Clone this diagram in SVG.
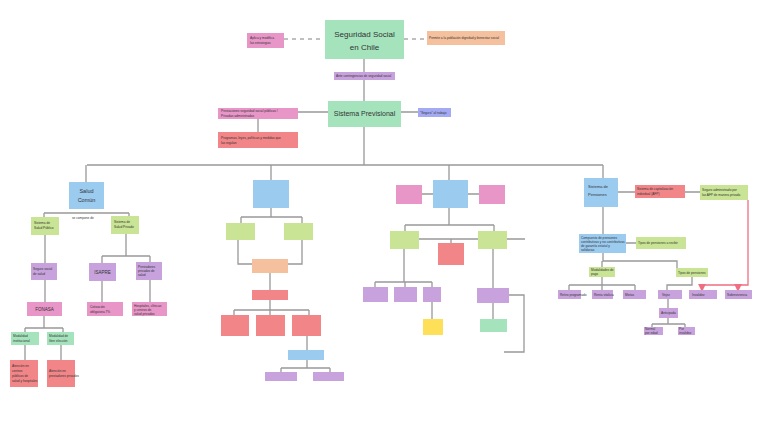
<svg xmlns="http://www.w3.org/2000/svg" width="768" height="443" viewBox="0 0 768 443">
<defs>
<style>
.c{stroke:#999;stroke-width:1.3;fill:none}
.d{stroke:#aaa;stroke-width:1.3;fill:none;stroke-dasharray:4 4}
.r{stroke:#f06d82;stroke-width:1.3;fill:none}
.g{fill:#a5e3bd}.b{fill:#9ccbf0}.p{fill:#e895c8}.o{fill:#f5c09d}.v{fill:#c7a2dc}.l{fill:#c8e494}.rd{fill:#f18587}.y{fill:#fde057}.bl{fill:#a3a9f2}
text{font-family:"Liberation Sans",Arial,sans-serif;fill:#333;font-size:3.2px}
.t{font-size:8px}.m{font-size:5.5px}
</style>
<marker id="a" markerWidth="6" markerHeight="6" refX="3" refY="3" orient="auto"><path d="M0,0L6,3L0,6z" fill="#f06d82"/></marker>
</defs>
<rect width="768" height="443" fill="#fff"/>
<g id="connectors">
<path class="d" d="M284,39H322M404,39H425"/>
<path class="c" d="M364,59V101M364,127V165M87,165H603M298,112H328M401,112H418M258,119V132"/>
<path class="c" d="M86,165V182M44,213H129M44,213V217M129,213V216M45,235V263M45,280V302M44,316V328M25,328H63M25,328V332M63,328V332M25,345V360M61,345V360M126,234V256M102,256H150M102,256V263M150,256V262M102,281V302M150,280V302"/>
<path class="c" d="M271,165V180M271,208V217M241,217H302M241,217V223M302,217V223M238,240V264H252M302,240V264H288M270,273V290M270,300V310M234,310H309M234,310V315M270,310V315M309,310V315M307,336V350M307,360V368M281,368H330M281,368V372M330,368V372"/>
<path class="c" d="M449,165V180M422,194H433M468,194H479M449,208V225M405,225H494M405,225V231M494,225V231M419,239H525M451,239V243M404,249V282M375,282H432M375,282V287M405,282V287M432,282V287M432,302V319M493,249V288M493,303V319M509,295H524V352H504"/>
<path class="c" d="M603,165V178M618,192H635M685,192H700M603,207V234M626,243H636M603,253V261H677V268M602,261V267M602,277V285M569,285H635M569,285V290M602,285V290M635,285V290M692,277V285H667V290M668,299V308M668,318V324M652,324H685M652,324V327M685,324V327"/>
<path class="r" d="M748,200V285H702V288" marker-end="url(#a)"/>
<path class="r" d="M738,285V288" marker-end="url(#a)"/>
</g>
<g id="n_title"><rect class="g" x="325" y="20" width="79" height="39"/><text class="t" x="364.5" y="37" text-anchor="middle">Seguridad Social</text><text class="t" x="364.5" y="50" text-anchor="middle">en   Chile</text></g>
<g id="n_tl"><rect class="p" x="247" y="33" width="37" height="15"/><text x="250" y="39">Aplica y modifica</text><text x="250" y="44">las estrategias</text></g>
<g id="n_tr"><rect class="o" x="427" y="31" width="78" height="14"/><text x="429" y="39">Permite a la población dignidad y bienestar social</text></g>
<g id="n_lab"><rect class="v" x="334" y="72" width="61" height="8"/><text x="336" y="77">Ante contingencias de seguridad social</text></g>
<g id="n_sp"><rect class="g" x="328" y="101" width="73" height="26"/><text class="m" x="364.5" y="116" text-anchor="middle" style="font-size:7px">Sistema Previsional</text></g>
<g id="n_bl"><rect class="bl" x="418" y="108" width="33" height="9"/><text x="420" y="114">"Seguro" al trabajo</text></g>
<g id="n_pl"><rect class="p" x="218" y="108" width="80" height="11"/><text x="221" y="112">Prestaciones seguridad social públicas /</text><text x="221" y="117">Privadas administradas</text></g>
<g id="n_rl"><rect class="rd" x="218" y="132" width="80" height="16"/><text x="221" y="139">Programas, leyes, políticas y medidas que</text><text x="221" y="144">las regulan</text></g>
<g id="n_salud"><rect class="b" x="69" y="182" width="35" height="27"/><text class="m" x="86.5" y="193" text-anchor="middle">Salud</text><text class="m" x="86.5" y="202" text-anchor="middle">Común</text></g>
<text x="72" y="219">se compone de</text>
<g id="n_s1"><rect class="l" x="31" y="217" width="28" height="18"/><text x="34" y="224">Sistema de</text><text x="34" y="229">Salud Público</text></g>
<g id="n_s2"><rect class="l" x="111" y="216" width="28" height="18"/><text x="114" y="223">Sistema de</text><text x="114" y="228">Salud Privado</text></g>
<g id="n_s3"><rect class="v" x="31" y="263" width="26" height="17"/><text x="33" y="270">Seguro social</text><text x="33" y="275">de salud</text></g>
<g id="n_fon"><rect class="p" x="27" y="302" width="35" height="14"/><text class="m" x="44.5" y="311" text-anchor="middle" style="font-size:4.5px">FONASA</text></g>
<g id="n_m1"><rect class="g" x="11" y="332" width="28" height="13"/><text x="13" y="337">Modalidad</text><text x="13" y="342">institucional</text></g>
<g id="n_m2"><rect class="g" x="47" y="332" width="27" height="13"/><text x="49" y="337">Modalidad de</text><text x="49" y="342">libre elección</text></g>
<g id="n_r1"><rect class="rd" x="10" y="360" width="28" height="27"/><text x="12" y="367">Atención en</text><text x="12" y="372">centros</text><text x="12" y="377">públicos de</text><text x="12" y="382">salud y hospitales</text></g>
<g id="n_r2"><rect class="rd" x="47" y="360" width="28" height="27"/><text x="49" y="372">Atención en</text><text x="49" y="377">prestadores privados</text></g>
<g id="n_isa"><rect class="v" x="89" y="263" width="27" height="18"/><text class="m" x="102.5" y="274" text-anchor="middle" style="font-size:4.5px">ISAPRE</text></g>
<g id="n_pp"><rect class="v" x="136" y="262" width="26" height="18"/><text x="138" y="268">Prestadores</text><text x="138" y="272">privados de</text><text x="138" y="276">salud</text></g>
<g id="n_pk1"><rect class="p" x="87" y="302" width="36" height="14"/><text x="90" y="308">Cotización</text><text x="90" y="313">obligatoria 7%</text></g>
<g id="n_pk2"><rect class="p" x="132" y="302" width="35" height="14"/><text x="134" y="307">Hospitales, clínicas</text><text x="134" y="311">y centros de</text><text x="134" y="315">salud privados</text></g>
<g id="m1"><rect class="b" x="253" y="180" width="36" height="28"/></g>
<g id="m2"><rect class="l" x="226" y="223" width="29" height="17"/></g>
<g id="m3"><rect class="l" x="284" y="223" width="29" height="17"/></g>
<g id="m4"><rect class="o" x="252" y="259" width="36" height="14"/></g>
<g id="m5"><rect class="rd" x="252" y="290" width="36" height="10"/></g>
<g id="m6"><rect class="rd" x="221" y="315" width="28" height="21"/></g>
<g id="m7"><rect class="rd" x="256" y="315" width="29" height="21"/></g>
<g id="m8"><rect class="rd" x="292" y="315" width="29" height="21"/></g>
<g id="m9"><rect class="b" x="288" y="350" width="36" height="10"/></g>
<g id="m10"><rect class="v" x="265" y="372" width="32" height="9"/></g>
<g id="m11"><rect class="v" x="313" y="372" width="31" height="9"/></g>
<g id="k1"><rect class="b" x="433" y="180" width="35" height="28"/></g>
<g id="k2"><rect class="p" x="396" y="185" width="26" height="19"/></g>
<g id="k3"><rect class="p" x="479" y="185" width="26" height="19"/></g>
<g id="k4"><rect class="l" x="390" y="231" width="29" height="18"/></g>
<g id="k5"><rect class="l" x="478" y="231" width="29" height="18"/></g>
<g id="k6"><rect class="rd" x="438" y="243" width="26" height="22"/></g>
<g id="k7"><rect class="v" x="363" y="287" width="25" height="15"/></g>
<g id="k8"><rect class="v" x="394" y="287" width="23" height="15"/></g>
<g id="k9"><rect class="v" x="423" y="287" width="18" height="15"/></g>
<g id="k10"><rect class="y" x="423" y="319" width="20" height="16"/></g>
<g id="k11"><rect class="v" x="477" y="288" width="32" height="15"/></g>
<g id="k12"><rect class="g" x="480" y="319" width="27" height="13"/></g>
<g id="n_pen"><rect class="b" x="584" y="178" width="34" height="29"/><text x="588" y="188" style="font-size:4px">Sistema de</text><text x="588" y="196" style="font-size:4px">Pensiones</text></g>
<g id="n_afp1"><rect class="rd" x="635" y="185" width="50" height="13"/><text x="637" y="190">Sistema de capitalización</text><text x="637" y="195">individual (AFP)</text></g>
<g id="n_afp2"><rect class="l" x="700" y="185" width="48" height="15"/><text x="702" y="191">Seguro administrado por</text><text x="702" y="196">las AFP de manera privada</text></g>
<g id="n_pb"><rect class="b" x="579" y="234" width="47" height="19"/><text x="581" y="239">Compuesto de pensiones</text><text x="581" y="243">contributivas y no contributivas</text><text x="581" y="247">de garantía estatal y</text><text x="581" y="251">solidarias</text></g>
<g id="n_pg"><rect class="l" x="636" y="237" width="50" height="12"/><text x="638" y="244">Tipos de pensiones a recibir</text></g>
<g id="n_g1"><rect class="l" x="589" y="267" width="26" height="10"/><text x="591" y="271">Modalidades de</text><text x="591" y="275">pago</text></g>
<g id="n_g2"><rect class="l" x="676" y="268" width="32" height="9"/><text x="678" y="274">Tipos de pensiones</text></g>
<g id="n_q1"><rect class="v" x="558" y="290" width="23" height="9"/><text x="560" y="296">Retiro programado</text></g>
<g id="n_q2"><rect class="v" x="592" y="290" width="21" height="9"/><text x="594" y="296">Renta vitalicia</text></g>
<g id="n_q3"><rect class="v" x="623" y="290" width="23" height="9"/><text x="625" y="296">Mixtas</text></g>
<g id="n_q4"><rect class="v" x="658" y="290" width="24" height="9"/><text x="662" y="296">Vejez</text></g>
<g id="n_q5"><rect class="v" x="689" y="290" width="28" height="9"/><text x="692" y="296">Invalidez</text></g>
<g id="n_q6"><rect class="v" x="725" y="290" width="27" height="9"/><text x="727" y="296">Sobrevivencia</text></g>
<g id="n_q7"><rect class="v" x="659" y="308" width="19" height="10"/><text x="661" y="314">Anticipada</text></g>
<g id="n_q8"><rect class="v" x="644" y="327" width="19" height="8"/><text x="645" y="330">Normal</text><text x="645" y="334">por edad</text></g>
<g id="n_q9"><rect class="v" x="678" y="327" width="17" height="8"/><text x="679" y="330">Por</text><text x="679" y="334">invalidez</text></g>
</svg>
